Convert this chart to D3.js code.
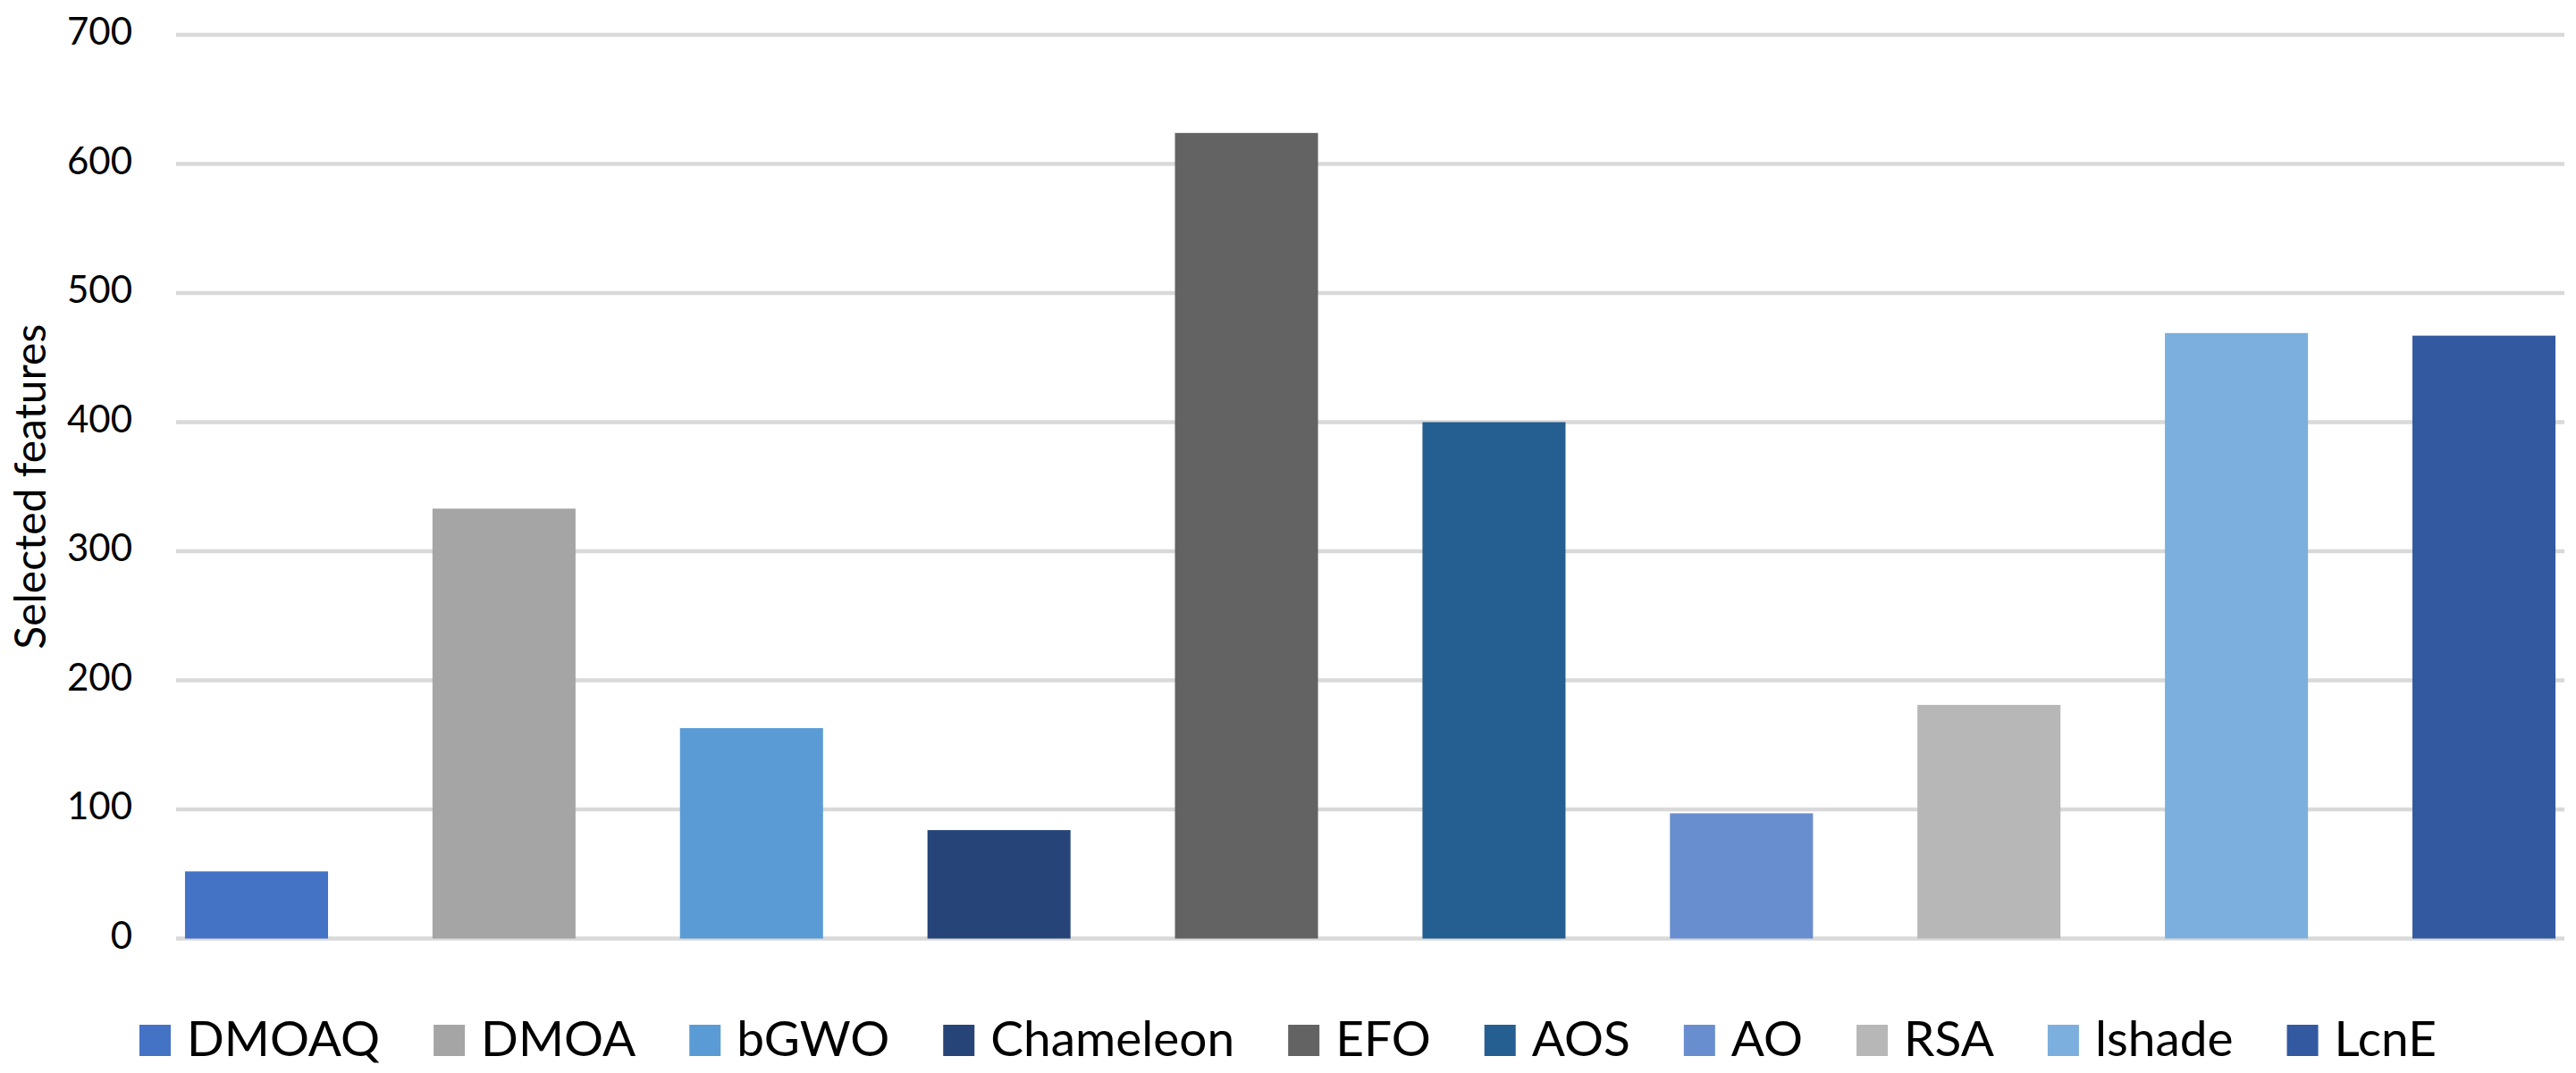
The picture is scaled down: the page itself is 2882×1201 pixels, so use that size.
<!DOCTYPE html>
<html>
<head>
<meta charset="utf-8">
<script src="https://cdn.jsdelivr.net/npm/d3@7"></script>
<style>
  html, body { margin: 0; padding: 0; background: #ffffff; }
  svg { display: block; }
  text { font-family: Lato, "Liberation Sans", sans-serif; fill: #000; }
</style>
</head>
<body>
<svg id="chart" width="2882" height="1201"></svg>
<script>
const categories = ["DMOAQ", "DMOA", "bGWO", "Chameleon", "EFO", "AOS", "AO", "RSA", "lshade", "LcnE"];
const values = [52, 333, 163, 84, 624, 400, 97, 181, 469, 467];
const colors = ["#4472C4", "#A5A5A5", "#5B9BD5", "#264478", "#636363", "#255E91", "#698ED0", "#B7B7B7", "#7CAFDD", "#335AA1"];
const yTicks = [0, 100, 200, 300, 400, 500, 600, 700];
const yTitle = "Selected features";

const W = 2882, H = 1201;
const margin = { left: 197, right: 13, top: 39, bottom: 150 };
const svg = d3.select("#chart");

const x = d3.scaleBand()
  .domain(categories)
  .range([margin.left, W - margin.right])
  .paddingInner(0.422)
  .paddingOuter(0.036);

const y = d3.scaleLinear()
  .domain([0, 700])
  .range([H - margin.bottom - 0.5, margin.top]);

// gridlines
svg.append("g")
  .selectAll("line")
  .data(yTicks)
  .join("line")
  .attr("x1", margin.left)
  .attr("x2", W - margin.right)
  .attr("y1", d => y(d))
  .attr("y2", d => y(d))
  .attr("stroke", "#D9D9D9")
  .attr("stroke-width", 4.5);

// y axis labels
const yAxis = d3.axisLeft(y).tickValues(yTicks).tickSize(0).tickPadding(0);
const ga = svg.append("g")
  .attr("transform", `translate(148,0)`)
  .call(yAxis);
ga.select(".domain").remove();
ga.selectAll("text")
  .attr("font-family", "Lato, 'Liberation Sans', sans-serif")
  .attr("font-size", 42)
  .attr("fill", "#000")
  .attr("dy", "0.26em");

// bars
svg.append("g")
  .selectAll("rect")
  .data(values)
  .join("rect")
  .attr("x", (d, i) => x(categories[i]))
  .attr("width", x.bandwidth())
  .attr("y", d => y(d))
  .attr("height", d => y(0) - y(d))
  .attr("fill", (d, i) => colors[i]);

// y title
svg.append("text")
  .attr("transform", `translate(51, ${(y(0) + y(700)) / 2}) rotate(-90)`)
  .attr("text-anchor", "middle")
  .attr("font-size", 48)
  .text(yTitle);

// legend
const legend = svg.append("g");
const fs = 55, sq = 35, gapSqText = 18, gapItem = 60;
const items = legend.selectAll("g")
  .data(categories)
  .join("g");
items.append("rect")
  .attr("width", sq).attr("height", sq)
  .attr("y", 1147)
  .attr("fill", (d, i) => colors[i]);
items.append("text")
  .attr("x", sq + gapSqText)
  .attr("y", 1182)
  .attr("font-size", fs)
  .text(d => d);
let cx = 0;
const offsets = [];
items.each(function() {
  const tw = d3.select(this).select("text").node().getComputedTextLength();
  offsets.push(cx);
  cx += sq + gapSqText + tw + gapItem;
});
const total = cx - gapItem;
const start = (W - total) / 2;
items.attr("transform", (d, i) => `translate(${start + offsets[i]},0)`);
</script>
</body>
</html>
